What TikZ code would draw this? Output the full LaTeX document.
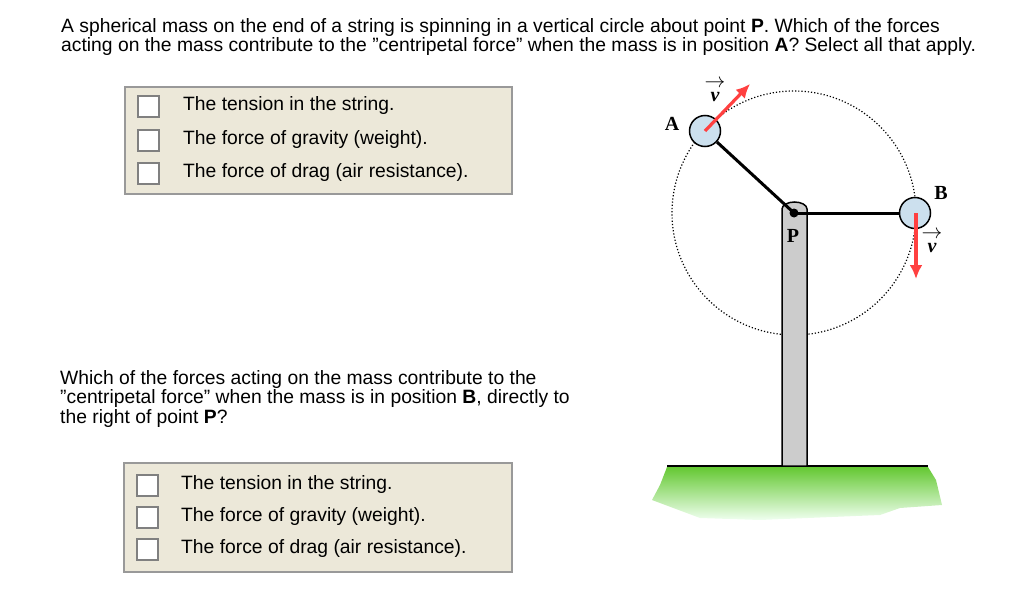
\documentclass[tikz,border=0pt]{standalone}
\usepackage{fontspec}
\usetikzlibrary{arrows.meta}
\setmainfont{Liberation Sans}
\newfontfamily\serifb{Liberation Serif}
\newcommand{\dq}{\symbol{34}}
\begin{document}
\begin{tikzpicture}[x=1pt,y=-1pt,
  txt/.style={anchor=west,inner sep=0pt,font=\fontsize{19.3}{19.5}\selectfont},
  panel/.style={draw=gray!80,line width=2pt,fill={rgb,255:red,236;green,232;blue,217}},
  chk/.style={draw=gray,line width=2pt,fill=white,minimum size=21pt,inner sep=0pt},
  ball/.style={circle,draw,line width=1.5pt,fill={rgb,255:red,204;green,224;blue,238},minimum size=31pt,inner sep=0pt},
  lab/.style={font=\serifb\bfseries\fontsize{20}{20}\selectfont,inner sep=0pt},
  vlab/.style={font=\serifb\bfseries\itshape\fontsize{20}{20}\selectfont,inner sep=0pt,align=center},
  vel/.style={red!75!white,line width=3.2pt,-{Latex[length=14pt,width=13pt]}}]
\useasboundingbox (0,0) rectangle (1024,610);
\node[txt,align=left,anchor=north west] (q1) at (61,18) {A spherical mass on the end of a string is spinning in a vertical circle about point \textbf{P}. Which of the forces\\acting on the mass contribute to the \dq centripetal force\dq{} when the mass is in position \textbf{A}? Select all that apply.};
% box 1
\draw[panel] (125,87) rectangle (512,194);
\foreach \y/\t [count=\i] in {106/The tension in the string., 140/The force of gravity (weight)., 173/The force of drag (air resistance).}{
  \node[chk] (c1\i) at (148,\y) {};
  \node[txt] (t1\i) at (183,\y) {\t};
}
\node[txt,align=left,anchor=north west] (q2) at (60,370) {Which of the forces acting on the mass contribute to the\\\dq centripetal force\dq{} when the mass is in position \textbf{B}, directly to\\the right of point \textbf{P}?};
\draw[panel] (124,463) rectangle (512,572);
\foreach \y/\t [count=\i] in {485/The tension in the string., 517/The force of gravity (weight)., 549/The force of drag (air resistance).}{
  \node[chk] (c2\i) at (147,\y) {};
  \node[txt] (t2\i) at (181,\y) {\t};
}
% ground
\shade[top color={rgb,255:red,100;green,200;blue,50},bottom color=green!6!white]
 (667,467) -- (928,467) -- (936,480) -- (942,505) -- (900,508) -- (880,515) -- (760,520) -- (700,518) -- (652,500) -- (660,485) -- cycle;
\draw[line width=1.5pt] (667,466) -- (928,466);
% circle path
\coordinate (P) at (794,213);
\draw[dotted,line width=1.2pt] (P) circle (122);
% pole
\draw[line width=1.5pt,fill=gray!40] (782,466) -- (782,209) arc[start angle=180,end angle=360,x radius=12.5,y radius=7] -- (807,466) -- cycle;
\node[ball] (A) at (705,131) {};
\node[ball] (B) at (915,213) {};
\draw[line width=3pt] (P) -- (A);
\draw[line width=3pt] (P) -- (B);
\fill (P) circle (4.5);
\coordinate (Ae) at (750,84);
\coordinate (Be) at (916,279);
\draw[vel] (A.center) -- (Ae);
\draw[vel] (916,213) -- (Be);
\node[lab] (la) at (672,124) {A};
\node[lab] (lb) at (941,193) {B};
\node[lab] (lp) at (793,236) {P};
\node[vlab] (va) at (715,91) {$\rightarrow$\\[-6pt]v};
\node[vlab] (vb) at (932,242) {$\rightarrow$\\[-6pt]v};
\end{tikzpicture}
\end{document}
